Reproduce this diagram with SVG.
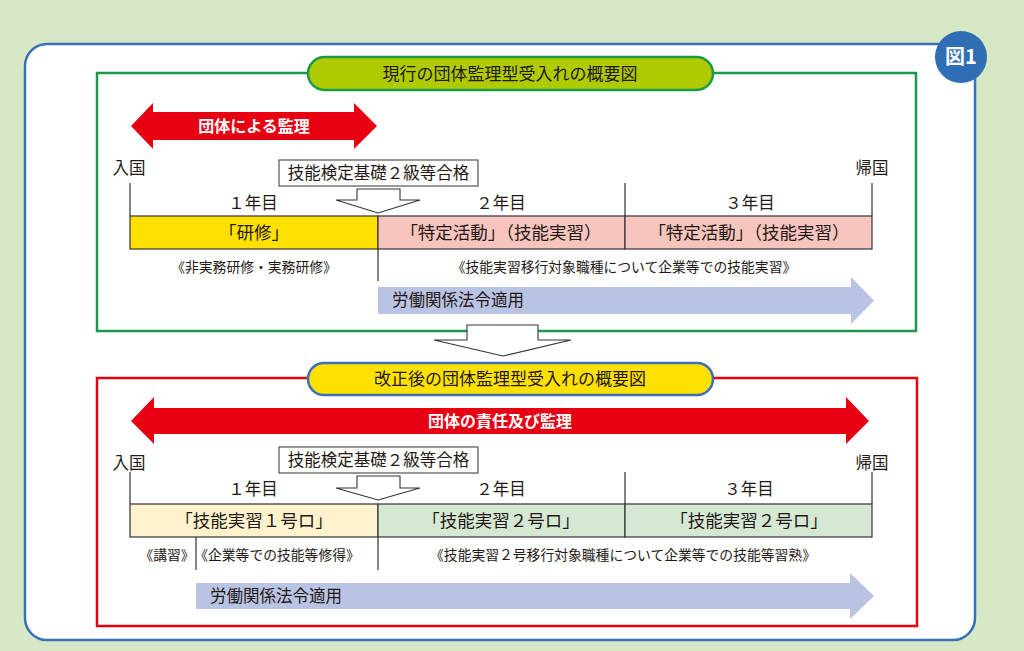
<svg xmlns="http://www.w3.org/2000/svg" width="1024" height="651" viewBox="0 0 1024 651">
<style>
text{font-family:"Noto Sans CJK JP","Noto Sans CJK SC",sans-serif;fill:#231815}
.c{text-anchor:middle}
.t17{font-size:17px}
.t16{font-size:16.5px}
.bar{font-size:17.5px}
.note{font-size:13.8px}
.w{fill:#fff;font-weight:bold}
.ln{stroke:#333;stroke-width:1.2;fill:none}
.hollow{fill:#fff;stroke:#333;stroke-width:1.1}
.cell{stroke:#333;stroke-width:1.2}
.red{fill:#e60012}
.blue{fill:#b9c3e3}
</style>
<rect x="0" y="0" width="1024" height="651" fill="#d7e8c6"/>
<rect x="25" y="44" width="950" height="596" rx="22" fill="#fff" stroke="#3a70b8" stroke-width="2.5"/>
<g id="badge">
<circle cx="961" cy="57" r="26" fill="#2f6db5"/>
<text x="961" y="64" class="c w" style="font-size:20px">図1</text>
</g>

<g id="frame-current">
<rect x="97" y="73" width="819" height="258" fill="none" stroke="#1a9a48" stroke-width="2.5"/>
</g>
<g id="frame-revised">
<rect x="97" y="378" width="820" height="248" fill="none" stroke="#e60012" stroke-width="2.5"/>
</g>

<g id="title-current">
<rect x="308" y="57" width="405" height="33" rx="16.5" fill="#afcb00" stroke="#1a9a48" stroke-width="2.5"/>
<text x="510" y="80" class="c t17">現行の団体監理型受入れの概要図</text>
</g>

<g id="supervision-current">
<polygon class="red" points="131,126 153,103 153,112 354,112 354,103 377,126 354,149 354,140 153,140 153,149"/>
<text x="254" y="132" class="c w" style="font-size:16px">団体による監理</text>
</g>

<g id="timeline-current">
<text x="129" y="174" class="c t16">入国</text>
<text x="872" y="174" class="c t16">帰国</text>
<text x="253" y="209" class="c t16">１年目</text>
<text x="501" y="209" class="c t16">２年目</text>
<text x="750" y="209" class="c t16">３年目</text>
<rect class="cell" x="130" y="216" width="248" height="33" fill="#ffe100"/>
<rect class="cell" x="378" y="216" width="247" height="33" fill="#f7c5bd"/>
<rect class="cell" x="625" y="216" width="247" height="33" fill="#f7c5bd"/>
<text x="254" y="238.5" class="c bar">「研修」</text>
<text x="501" y="238.5" class="c bar">「特定活動」（技能実習）</text>
<text x="749" y="238.5" class="c bar">「特定活動」（技能実習）</text>
<text x="254" y="272" class="c note">《非実務研修・実務研修》</text>
<text x="624" y="272" class="c note">《技能実習移行対象職種について企業等での技能実習》</text>
</g>

<g id="exam-current">
<rect x="279" y="160" width="199" height="26" fill="#fff" stroke="#444" stroke-width="1.1"/>
<text x="378.5" y="179" class="c t16">技能検定基礎２級等合格</text>
</g>

<g id="labor-current">
<polygon class="blue" points="378,287 851,287 851,277 874,300.5 851,324 851,314 378,314"/>
<text x="392" y="306" class="t16">労働関係法令適用</text>
</g>

<g id="title-revised">
<rect x="308" y="363" width="405" height="32" rx="16" fill="#ffe100" stroke="#3a70b8" stroke-width="2.5"/>
<text x="510" y="385" class="c t17">改正後の団体監理型受入れの概要図</text>
</g>

<g id="supervision-revised">
<polygon class="red" points="131,421 154,397 154,408 846,408 846,397 869,421 846,444 846,434 154,434 154,444"/>
<text x="500" y="427" class="c w" style="font-size:16px">団体の責任及び監理</text>
</g>

<g id="timeline-revised">
<text x="129" y="469" class="c t16">入国</text>
<text x="872" y="469" class="c t16">帰国</text>
<text x="253" y="495" class="c t16">１年目</text>
<text x="501" y="495" class="c t16">２年目</text>
<text x="749" y="495" class="c t16">３年目</text>
<rect class="cell" x="130" y="504" width="248" height="33" fill="#fff2cc"/>
<rect class="cell" x="378" y="504" width="247" height="33" fill="#d5e8d4"/>
<rect class="cell" x="625" y="504" width="247" height="33" fill="#d5e8d4"/>
<text x="254" y="527" class="c bar">「技能実習１号ロ」</text>
<text x="501" y="527" class="c bar">「技能実習２号ロ」</text>
<text x="749" y="527" class="c bar">「技能実習２号ロ」</text>
<text x="167" y="560" class="c note">《講習》</text>
<text x="277" y="560" class="c note">《企業等での技能等修得》</text>
<text x="623" y="560" class="c note">《技能実習２号移行対象職種について企業等での技能等習熟》</text>
</g>

<g id="exam-revised">
<rect x="279" y="447" width="199" height="26" fill="#fff" stroke="#444" stroke-width="1.1"/>
<text x="378.5" y="466" class="c t16">技能検定基礎２級等合格</text>
</g>

<g id="labor-revised">
<polygon class="blue" points="196,583 850,583 850,573 874,596 850,619 850,609 196,609"/>
<text x="210" y="602" class="t16">労働関係法令適用</text>
</g>

<g id="connectors">
<path class="ln" d="M130,183 V216 M625,183 V216 M872,183 V216 M378,249 V281"/>
<path class="ln" d="M130,472 V504 M625,472 V504 M872,472 V504 M196,537 V570 M378,537 V570"/>
<polygon class="hollow" points="357,189 400,189 400,200 420,200 378,213 336,200 357,200"/>
<polygon class="hollow" points="357,476 400,476 400,488 420,488 378,500 336,488 357,488"/>
<polygon class="hollow" points="467,325 538,325 538,340 571,340 503,356 434,340 467,340"/>
</g>
</svg>
